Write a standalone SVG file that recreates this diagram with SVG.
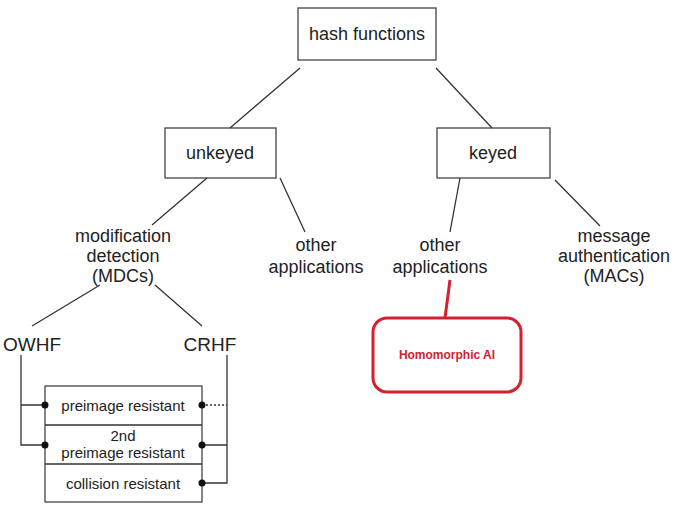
<svg xmlns="http://www.w3.org/2000/svg" width="685" height="506" viewBox="0 0 685 506">
<style>
text{font-family:"Liberation Sans",Arial,sans-serif;font-size:18px;fill:#222;text-anchor:middle}
.s{font-size:15px}
.b{fill:#fff;stroke:#444;stroke-width:1.3}
.l{stroke:#333;stroke-width:1.3;fill:none}
.d{fill:#111}
</style>
<rect width="685" height="506" fill="#fff"/>
<g id="hash"><rect class="b" x="298" y="8" width="138" height="52"/><text x="367" y="40">hash functions</text></g>
<g id="unkeyed"><rect class="b" x="165" y="128" width="111" height="50"/><text x="220" y="159">unkeyed</text></g>
<g id="keyed"><rect class="b" x="437" y="128" width="113" height="50"/><text x="493" y="159">keyed</text></g>
<g id="mdc"><text x="123" y="242">modification</text><text x="123" y="262">detection</text><text x="123" y="282">(MDCs)</text></g>
<g id="other1"><text x="316" y="251">other</text><text x="316" y="273">applications</text></g>
<g id="other2"><text x="440" y="251">other</text><text x="440" y="273">applications</text></g>
<g id="mac"><text x="614" y="242">message</text><text x="614" y="262">authentication</text><text x="614" y="282">(MACs)</text></g>
<g id="owhf"><text x="32" y="351" style="font-size:19px">OWHF</text></g>
<g id="crhf"><text x="210" y="351" style="font-size:19px">CRHF</text></g>
<g id="props">
<rect class="b" x="45" y="386" width="157" height="116"/>
<path class="l" d="M45 425H202M45 464H202"/>
<text class="s" x="123" y="411">preimage resistant</text>
<text class="s" x="123" y="441">2nd</text>
<text class="s" x="123" y="458">preimage resistant</text>
<text class="s" x="123" y="489">collision resistant</text>
</g>
<g id="homo"><rect x="373" y="318" width="148" height="74" rx="14" fill="#fff" stroke="#d42030" stroke-width="3"/><text x="447" y="359" style="font-size:12px;font-weight:bold;fill:#d42030">Homomorphic AI</text></g>
<g id="connectors">
<path class="l" d="M300 68L230 128M436 68L492 128M207 178L152 225M280 178L305 232M460 178L450 232M555 180L600 226M100 285L32 326M155 285L202 326"/>
<path class="l" d="M21 355V445H45M21 405H45M227 355V483H202M202 445H227"/>
<path class="l" d="M202 405H227" stroke-dasharray="2 2"/>
<path d="M450 280L445 318" stroke="#d42030" stroke-width="3" fill="none"/>
<circle class="d" cx="45" cy="405" r="3.5"/><circle class="d" cx="45" cy="445" r="3.5"/>
<circle class="d" cx="202" cy="405" r="3.5"/><circle class="d" cx="202" cy="445" r="3.5"/><circle class="d" cx="202" cy="483" r="3.5"/>
</g>
</svg>
